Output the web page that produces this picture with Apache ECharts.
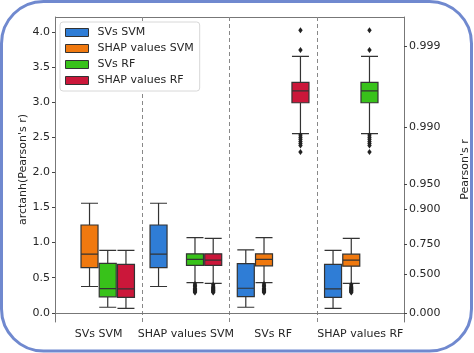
<!DOCTYPE html>
<html>
<head>
<meta charset="utf-8">
<script src="https://cdn.jsdelivr.net/npm/echarts@6/dist/echarts.min.js"></script>
<style>
  html, body { margin: 0; padding: 0; background: #fff; }
  #chart { width: 474px; height: 353px; }
</style>
</head>
<body>
<div id="chart"></div>
<script>
// groups on the x axis
const categories = ['SVs SVM', 'SHAP values SVM', 'SVs RF', 'SHAP values RF'];
const seriesNames = ['SVs SVM', 'SHAP values SVM', 'SVs RF', 'SHAP values RF'];
const seriesColors = ['#2f7dd6', '#f0790f', '#38c21a', '#cb173a'];

// box stats per group: [low whisker, Q1, median, Q3, high whisker], null = self comparison
const svsSvmBoxes = [null, [0.375, 0.645, 0.835, 1.25, 1.56], [0.08, 0.23, 0.35, 0.70, 0.895], [0.065, 0.22, 0.34, 0.69, 0.89]];
const shapSvmBoxes = [[0.375, 0.645, 0.835, 1.25, 1.56], null, [0.43, 0.67, 0.76, 0.84, 1.07], [0.42, 0.665, 0.75, 0.835, 1.06]];
const svsRfBoxes = [[0.08, 0.228, 0.345, 0.705, 0.89], [0.43, 0.675, 0.76, 0.84, 1.07], null, [2.55, 2.99, 3.16, 3.28, 3.65]];
const shapRfBoxes = [[0.065, 0.22, 0.34, 0.69, 0.89], [0.42, 0.675, 0.75, 0.84, 1.06], [2.55, 2.99, 3.16, 3.28, 3.65], null];

// outliers as [group index, value]
const svsSvmOutliers = [];
const shapSvmOutliers = [
  [2, 0.41], [2, 0.39], [2, 0.37], [2, 0.35], [2, 0.34], [2, 0.33], [2, 0.32], [2, 0.31], [2, 0.30], [2, 0.29],
  [3, 0.40], [3, 0.38], [3, 0.36], [3, 0.35], [3, 0.34], [3, 0.33], [3, 0.32], [3, 0.31], [3, 0.30], [3, 0.29]
];
const svsRfOutliers = [
  [1, 0.41], [1, 0.39], [1, 0.37], [1, 0.35], [1, 0.34], [1, 0.33], [1, 0.32], [1, 0.31], [1, 0.30], [1, 0.29],
  [3, 4.02], [3, 3.74], [3, 2.53], [3, 2.50], [3, 2.47], [3, 2.44], [3, 2.41], [3, 2.38], [3, 2.29]
];
const shapRfOutliers = [
  [1, 0.40], [1, 0.38], [1, 0.36], [1, 0.35], [1, 0.34], [1, 0.33], [1, 0.32], [1, 0.31], [1, 0.30], [1, 0.29],
  [2, 4.02], [2, 3.74], [2, 2.53], [2, 2.50], [2, 2.47], [2, 2.44], [2, 2.41], [2, 2.38], [2, 2.29]
];

// tick labels
const leftTicks = [0.0, 0.5, 1.0, 1.5, 2.0, 2.5, 3.0, 3.5, 4.0];
const rightTickLabels = ['0.000', '0.500', '0.750', '0.900', '0.950', '0.990', '0.999'];

const boxData = [svsSvmBoxes, shapSvmBoxes, svsRfBoxes, shapRfBoxes];
const outlierData = [svsSvmOutliers, shapSvmOutliers, svsRfOutliers, shapRfOutliers];
const rightTickValues = rightTickLabels.map((s) => Math.atanh(parseFloat(s)));

const textColor = '#262626';
const font = 'DejaVu Sans';

const chart = echarts.init(document.getElementById('chart'), null, { renderer: 'canvas' });

// same offset rule the boxplot layout uses, so outliers sit on their box
function boxOffset(band, idx, count) {
  const avail = band * 0.8 - 2;
  const gap = avail / count * 0.3;
  const w = (avail - gap * (count - 1)) / count;
  return w / 2 - avail / 2 + idx * (gap + w);
}

const series = [];
boxData.forEach((boxes, k) => {
  series.push({
    name: seriesNames[k],
    type: 'boxplot',
    xAxisIndex: 0,
    yAxisIndex: 0,
    boxWidth: [17, 17],
    data: boxes.map((b) => (b ? b : ['-', '-', '-', '-', '-'])),
    itemStyle: { color: seriesColors[k], borderColor: '#333', borderWidth: 1.2 },
    emphasis: { disabled: true },
    silent: true,
  });
});
outlierData.forEach((pts, k) => {
  series.push({
    name: 'outliers ' + k,
    type: 'custom',
    xAxisIndex: 0,
    yAxisIndex: 0,
    data: pts,
    encode: { x: 0, y: 1 },
    silent: true,
    z: 5,
    renderItem: (params, api) => {
      const band = api.size([1, 0])[0];
      const p = api.coord([api.value(0), api.value(1)]);
      const x = p[0] + boxOffset(band, k, 4);
      const y = p[1];
      return {
        type: 'polygon',
        shape: { points: [[x, y - 3], [x + 2.2, y], [x, y + 3], [x - 2.2, y]] },
        style: { fill: '#222' },
      };
    },
  });
});

chart.setOption({
  backgroundColor: '#fff',
  animation: false,
  graphic: [
    {
      type: 'rect',
      shape: { x: 1.5, y: 1.5, width: 470, height: 349.5, r: 42 },
      style: { fill: 'none', stroke: '#7089cf', lineWidth: 3 },
      silent: true,
      z: 100,
    },
    {
      type: 'line',
      shape: { x1: 55, y1: 17.5, x2: 404, y2: 17.5 },
      style: { stroke: '#777', lineWidth: 1 },
      silent: true,
    },
  ],
  legend: {
    data: seriesNames.map((n, i) => ({
      name: n,
      itemStyle: { color: seriesColors[i], borderColor: '#333', borderWidth: 1 },
    })),
    orient: 'vertical',
    left: 60,
    top: 22,
    padding: [5, 6, 5, 5],
    itemGap: 5,
    itemWidth: 23,
    itemHeight: 8,
    icon: 'rect',
    backgroundColor: '#fff',
    borderColor: '#d8d8d8',
    borderWidth: 1,
    borderRadius: 3,
    textStyle: { color: textColor, fontSize: 11, fontFamily: font, padding: [0, 0, 0, 4] },
  },
  grid: { left: 55, right: 70, top: 17, bottom: 31, outerBoundsMode: 'none' },
  xAxis: {
    type: 'category',
    data: categories,
    axisLine: { show: true, lineStyle: { color: '#777', width: 1 } },
    axisTick: { show: false, interval: 0 },
    axisLabel: { interval: 0, color: textColor, fontSize: 11, fontFamily: font, margin: 7 },
    splitLine: { show: true, interval: 0, lineStyle: { color: '#888', type: [4, 3], width: 1 } },
  },
  yAxis: [
    {
      type: 'value',
      min: -0.13,
      max: 4.21,
      name: "arctanh(Pearson's r)",
      nameLocation: 'middle',
      nameRotate: 90,
      nameGap: 26,
      nameMoveOverlap: false,
      nameTextStyle: { color: textColor, fontSize: 11, fontFamily: font },
      axisLine: { show: true, lineStyle: { color: '#777', width: 1 } },
      axisTick: { show: true, length: 3, customValues: leftTicks, lineStyle: { color: '#444' } },
      axisLabel: {
        customValues: leftTicks,
        color: textColor,
        fontSize: 11,
        fontFamily: font,
        margin: 5,
        formatter: (v) => v.toFixed(1),
      },
      splitLine: { show: false },
    },
    {
      type: 'value',
      position: 'right',
      min: -0.13,
      max: 4.21,
      name: "Pearson's r",
      nameLocation: 'middle',
      nameRotate: 90,
      nameGap: 56,
      nameMoveOverlap: false,
      nameTextStyle: { color: textColor, fontSize: 11, fontFamily: font },
      axisLine: { show: true, lineStyle: { color: '#777', width: 1 } },
      axisTick: { show: true, length: 3, customValues: rightTickValues, lineStyle: { color: '#444' } },
      axisLabel: {
        customValues: rightTickValues,
        color: textColor,
        fontSize: 11,
        fontFamily: font,
        margin: 5,
        formatter: (v) => Math.tanh(v).toFixed(3),
      },
      splitLine: { show: false },
    },
  ],
  series: series,
});
</script>
</body>
</html>
